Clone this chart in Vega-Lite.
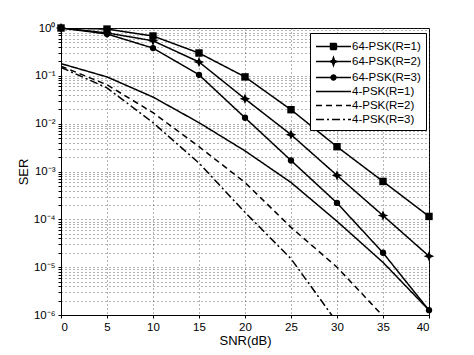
{
  "$schema": "https://vega.github.io/schema/vega-lite/v6.json",
  "width": 368,
  "height": 287,
  "autosize": "none",
  "padding": {"left": 61, "top": 28, "right": 45, "bottom": 40},
  "background": "white",
  "config": {
    "font": "Liberation Sans",
    "view": {"stroke": "black", "strokeWidth": 1},
    "axis": {
      "labelFont": "Liberation Sans",
      "titleFont": "Liberation Sans",
      "labelColor": "black",
      "titleColor": "black",
      "domainColor": "black",
      "tickColor": "black",
      "labelFontSize": 11.5,
      "titleFontSize": 13,
      "titleFontWeight": "normal",
      "gridColor": "#444",
      "gridDash": [1, 3],
      "gridOpacity": 0.8
    }
  },
  "data": {
    "values": [
      {"series": "64-PSK(R=1)", "snr": 0, "ser": 1.0},
      {"series": "64-PSK(R=1)", "snr": 5, "ser": 0.95},
      {"series": "64-PSK(R=1)", "snr": 10, "ser": 0.68},
      {"series": "64-PSK(R=1)", "snr": 15, "ser": 0.30},
      {"series": "64-PSK(R=1)", "snr": 20, "ser": 0.095},
      {"series": "64-PSK(R=1)", "snr": 25, "ser": 0.0196},
      {"series": "64-PSK(R=1)", "snr": 30, "ser": 0.0033},
      {"series": "64-PSK(R=1)", "snr": 35, "ser": 0.00062},
      {"series": "64-PSK(R=1)", "snr": 40, "ser": 0.000115},
      {"series": "64-PSK(R=2)", "snr": 0, "ser": 1.0},
      {"series": "64-PSK(R=2)", "snr": 5, "ser": 0.79},
      {"series": "64-PSK(R=2)", "snr": 10, "ser": 0.54},
      {"series": "64-PSK(R=2)", "snr": 15, "ser": 0.195},
      {"series": "64-PSK(R=2)", "snr": 20, "ser": 0.033},
      {"series": "64-PSK(R=2)", "snr": 25, "ser": 0.0059},
      {"series": "64-PSK(R=2)", "snr": 30, "ser": 0.00083},
      {"series": "64-PSK(R=2)", "snr": 35, "ser": 0.00012},
      {"series": "64-PSK(R=2)", "snr": 40, "ser": 0.000017},
      {"series": "64-PSK(R=3)", "snr": 0, "ser": 1.0},
      {"series": "64-PSK(R=3)", "snr": 5, "ser": 0.75},
      {"series": "64-PSK(R=3)", "snr": 10, "ser": 0.38},
      {"series": "64-PSK(R=3)", "snr": 15, "ser": 0.105},
      {"series": "64-PSK(R=3)", "snr": 20, "ser": 0.0133},
      {"series": "64-PSK(R=3)", "snr": 25, "ser": 0.0017},
      {"series": "64-PSK(R=3)", "snr": 30, "ser": 0.00022},
      {"series": "64-PSK(R=3)", "snr": 35, "ser": 0.00002},
      {"series": "64-PSK(R=3)", "snr": 40, "ser": 0.00000126},
      {"series": "4-PSK(R=1)", "snr": 0, "ser": 0.18},
      {"series": "4-PSK(R=1)", "snr": 5, "ser": 0.095},
      {"series": "4-PSK(R=1)", "snr": 10, "ser": 0.036},
      {"series": "4-PSK(R=1)", "snr": 15, "ser": 0.0105},
      {"series": "4-PSK(R=1)", "snr": 20, "ser": 0.0027},
      {"series": "4-PSK(R=1)", "snr": 25, "ser": 0.00059},
      {"series": "4-PSK(R=1)", "snr": 30, "ser": 0.000091},
      {"series": "4-PSK(R=1)", "snr": 35, "ser": 0.0000126},
      {"series": "4-PSK(R=1)", "snr": 40, "ser": 0.00000126},
      {"series": "4-PSK(R=2)", "snr": 0, "ser": 0.16},
      {"series": "4-PSK(R=2)", "snr": 5, "ser": 0.065},
      {"series": "4-PSK(R=2)", "snr": 10, "ser": 0.017},
      {"series": "4-PSK(R=2)", "snr": 15, "ser": 0.0033},
      {"series": "4-PSK(R=2)", "snr": 20, "ser": 0.00059},
      {"series": "4-PSK(R=2)", "snr": 25, "ser": 0.000068},
      {"series": "4-PSK(R=2)", "snr": 30, "ser": 0.00001},
      {"series": "4-PSK(R=2)", "snr": 35, "ser": 0.00000095},
      {"series": "4-PSK(R=3)", "snr": 0, "ser": 0.15},
      {"series": "4-PSK(R=3)", "snr": 5, "ser": 0.056},
      {"series": "4-PSK(R=3)", "snr": 10, "ser": 0.0105},
      {"series": "4-PSK(R=3)", "snr": 15, "ser": 0.0015},
      {"series": "4-PSK(R=3)", "snr": 20, "ser": 0.00014},
      {"series": "4-PSK(R=3)", "snr": 25, "ser": 0.000015},
      {"series": "4-PSK(R=3)", "snr": 30, "ser": 0.0000007}
    ]
  },
  "encoding": {
    "x": {
      "field": "snr", "type": "quantitative",
      "scale": {"domain": [0, 40], "nice": false},
      "axis": {"values": [0, 5, 10, 15, 20, 25, 30, 35, 40], "title": "SNR(dB)", "tickSize": 3, "labelPadding": 3, "titlePadding": 2}
    },
    "y": {
      "field": "ser", "type": "quantitative",
      "scale": {"type": "log", "domain": [0.000001, 1], "nice": false},
      "axis": {
        "title": "SER",
        "titlePadding": 3,
        "tickSize": 3,
        "labelPadding": 3,
        "values": [0.000001, 0.000002, 0.000003, 0.000004, 0.000005, 0.000006, 0.000007, 0.000008, 0.000009,
                   0.00001, 0.00002, 0.00003, 0.00004, 0.00005, 0.00006, 0.00007, 0.00008, 0.00009,
                   0.0001, 0.0002, 0.0003, 0.0004, 0.0005, 0.0006, 0.0007, 0.0008, 0.0009,
                   0.001, 0.002, 0.003, 0.004, 0.005, 0.006, 0.007, 0.008, 0.009,
                   0.01, 0.02, 0.03, 0.04, 0.05, 0.06, 0.07, 0.08, 0.09,
                   0.1, 0.2, 0.3, 0.4, 0.5, 0.6, 0.7, 0.8, 0.9, 1],
        "labelExpr": "abs(datum.value / pow(10, round(log(datum.value) / LN10)) - 1) < 0.000001 ? ['10⁰','10⁻¹','10⁻²','10⁻³','10⁻⁴','10⁻⁵','10⁻⁶'][-round(log(datum.value) / LN10)] : ''"
      }
    }
  },
  "layer": [
    {
      "mark": {"type": "line", "color": "black", "strokeWidth": 1.5, "clip": true},
      "encoding": {
        "strokeDash": {
          "field": "series", "type": "nominal",
          "scale": {
            "domain": ["64-PSK(R=1)", "64-PSK(R=2)", "64-PSK(R=3)", "4-PSK(R=1)", "4-PSK(R=2)", "4-PSK(R=3)"],
            "range": [[1, 0], [1, 0], [1, 0], [1, 0], [6, 4], [8, 3, 2, 3]]
          },
          "legend": {
            "title": null,
            "orient": "none",
            "legendX": 249,
            "legendY": 5,
            "fillColor": "white",
            "strokeColor": "black",
            "padding": 5,
            "labelFontSize": 11.5,
            "labelFont": "Liberation Sans",
            "labelColor": "black",
            "symbolSize": 225,
            "symbolStrokeWidth": 1.4,
            "symbolStrokeColor": "black",
            "labelOffset": 20,
            "rowPadding": 0,
            "encode": {
              "symbols": {
                "update": {
                  "fill": {"value": "black"},
                  "stroke": {"value": "black"},
                  "strokeWidth": {"value": 1.4},
                  "opacity": {"value": 1},
                  "shape": {"signal": "datum.value == '64-PSK(R=1)' ? 'M-1,0H3.67M0.93,-0.4H1.73V0.4H0.93Z' : datum.value == '64-PSK(R=2)' ? 'M-1,0H3.67M1.33,-0.55L1.47,-0.14L1.85,0L1.47,0.14L1.33,0.55L1.19,0.14L0.81,0L1.19,-0.14Z' : datum.value == '64-PSK(R=3)' ? 'M-1,0H3.67M1.0,0A0.33,0.33 0 1,0 1.66,0A0.33,0.33 0 1,0 1.0,0Z' : 'M-1,0H3.67'"}
                }
              }
            }
          }
        }
      }
    },
    {
      "transform": [{"filter": "datum.series == '64-PSK(R=1)'"}],
      "mark": {"type": "point", "shape": "square", "filled": true, "color": "black", "size": 55, "opacity": 1, "clip": false}
    },
    {
      "transform": [{"filter": "datum.series == '64-PSK(R=2)'"}],
      "mark": {"type": "point", "shape": "M0,-1L0.3,-0.3L1,0L0.3,0.3L0,1L-0.3,0.3L-1,0L-0.3,-0.3Z", "filled": true, "color": "black", "size": 110, "opacity": 1, "clip": false}
    },
    {
      "transform": [{"filter": "datum.series == '64-PSK(R=3)'"}],
      "mark": {"type": "point", "shape": "circle", "filled": true, "color": "black", "size": 40, "opacity": 1, "clip": false}
    }
  ]
}
